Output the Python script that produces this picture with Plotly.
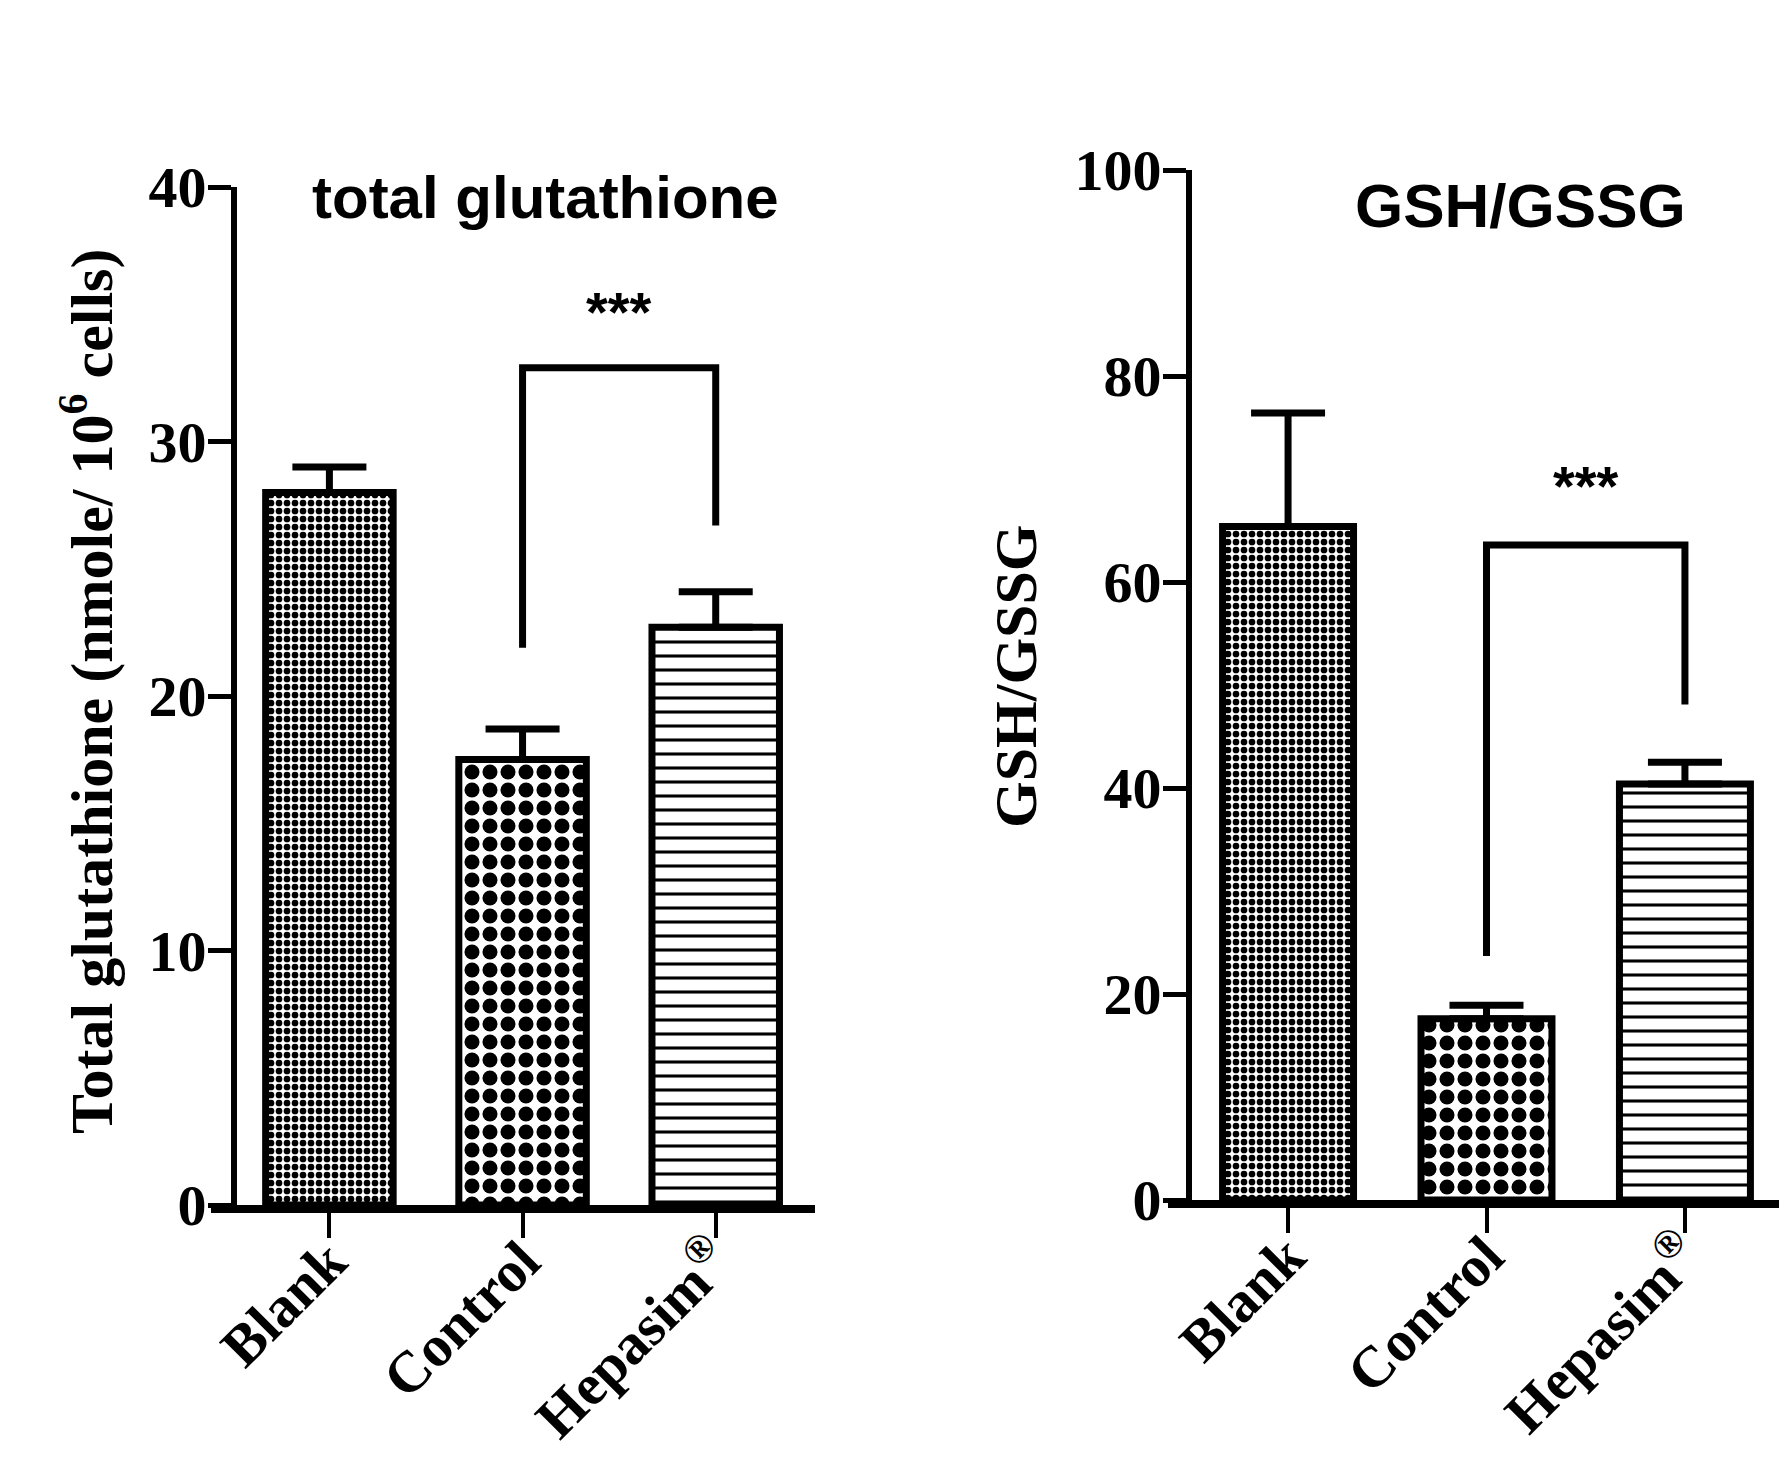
import plotly.graph_objects as go

# data
categories = ["Blank", "Control", "Hepasim<sup>®</sup>"]
total_gsh = [28.0, 17.5, 22.7]
total_gsh_err = [1.0, 1.2, 1.4]
gsh_gssg = [65.4, 17.6, 40.4]
gsh_gssg_err = [11.0, 1.3, 2.1]

# significance bracket Control vs Hepasim
bracket_x = ["Control", "Control", "Hepasim<sup>®</sup>", "Hepasim<sup>®</sup>"]
total_bracket_y = [21.9, 32.9, 32.9, 26.7]
ratio_bracket_y = [23.7, 63.6, 63.6, 48.1]
total_star_y = 35.1
ratio_star_y = 69.4

SERIF = "Liberation Serif"
SANS = "Liberation Sans"

# page body keeps an 8px margin, so the figure is a bit smaller than the window
W, H, OFF = 1771, 1446, 8


def px(s):
    return (s - OFF) / W


def py(s):
    return 1 - (s - OFF) / H


bar_pattern = dict(
    shape=[".", ".", "-"],
    size=[8, 18, 14],
    solidity=[0.55, 0.55, 0.22],
    fgcolor="black",
    bgcolor="white",
    fillmode="replace",
)

fig = go.Figure()

panels = [
    (total_gsh, total_gsh_err, total_bracket_y, "x", "y"),
    (gsh_gssg, gsh_gssg_err, ratio_bracket_y, "x2", "y2"),
]
for vals, errs, brk, xa, ya in panels:
    fig.add_trace(go.Bar(
        x=categories, y=vals, xaxis=xa, yaxis=ya, width=0.66,
        marker=dict(color="white", line=dict(color="black", width=7),
                    pattern=bar_pattern),
        error_y=dict(type="data", array=errs, symmetric=False,
                     arrayminus=[0, 0, 0], color="black",
                     thickness=7, width=37),
    ))
    fig.add_trace(go.Scatter(
        x=bracket_x, y=brk, xaxis=xa, yaxis=ya, mode="lines",
        line=dict(color="black", width=7), cliponaxis=False,
    ))

tick_y = dict(family=SERIF, size=58, color="black", weight="bold")
tick_x = dict(family=SERIF, size=58, color="black", weight="bold")

xcommon = dict(type="category", showline=True, linewidth=8, linecolor="black",
               ticks="outside", ticklen=25, tickwidth=4, tickcolor="black",
               tickangle=-45, tickfont=tick_x, ticklabelstandoff=-34,
               showgrid=False, automargin=False)
ycommon = dict(showline=True, linewidth=6, linecolor="black", ticks="outside",
               ticklen=23, tickwidth=5, tickcolor="black", tickfont=tick_y,
               ticklabelstandoff=-10,
               showgrid=False, zeroline=False, anchor="free", automargin=False)

fig.update_layout(
    width=W, height=H,
    margin=dict(l=0, r=0, t=0, b=0),
    paper_bgcolor="white", plot_bgcolor="white",
    showlegend=False,
    xaxis=dict(xcommon, domain=[px(211), px(815)], range=[-0.613, 2.514], anchor="y"),
    yaxis=dict(ycommon, domain=[py(1205), py(187)], range=[0, 40], dtick=10,
               position=px(234)),
    xaxis2=dict(xcommon, domain=[px(1168), 1.0], range=[-0.605, 2.474], anchor="y2"),
    yaxis2=dict(ycommon, domain=[py(1200), py(170)], range=[0, 100], dtick=20,
                position=px(1189)),
)

title_font = dict(family=SANS, size=60, color="black", weight="bold")
axis_title_font = dict(family=SERIF, size=60, color="black", weight="bold")
star_font = dict(family=SANS, size=56, color="black", weight="bold")

common = dict(showarrow=False, xanchor="center", yanchor="middle")
fig.add_annotation(text="total glutathione", xref="paper", yref="paper",
                   x=px(545), y=py(198), font=title_font, **common)
fig.add_annotation(text="GSH/GSSG", xref="paper", yref="paper",
                   x=px(1520), y=py(206), font=dict(title_font, size=62), **common)
fig.add_annotation(text="Total glutathione (nmole/ 10<sup>6</sup> cells)",
                   xref="paper", yref="paper", x=px(87), y=py(692),
                   textangle=-90, font=axis_title_font, **common)
fig.add_annotation(text="GSH/GSSG", xref="paper", yref="paper",
                   x=px(1016), y=py(677), textangle=-90,
                   font=axis_title_font, **common)
fig.add_annotation(text="***", xref="x", yref="y", x=1.5, y=total_star_y,
                   font=star_font, **common)
fig.add_annotation(text="***", xref="x2", yref="y2", x=1.5, y=ratio_star_y,
                   font=star_font, **common)

fig.write_html("out.html")
